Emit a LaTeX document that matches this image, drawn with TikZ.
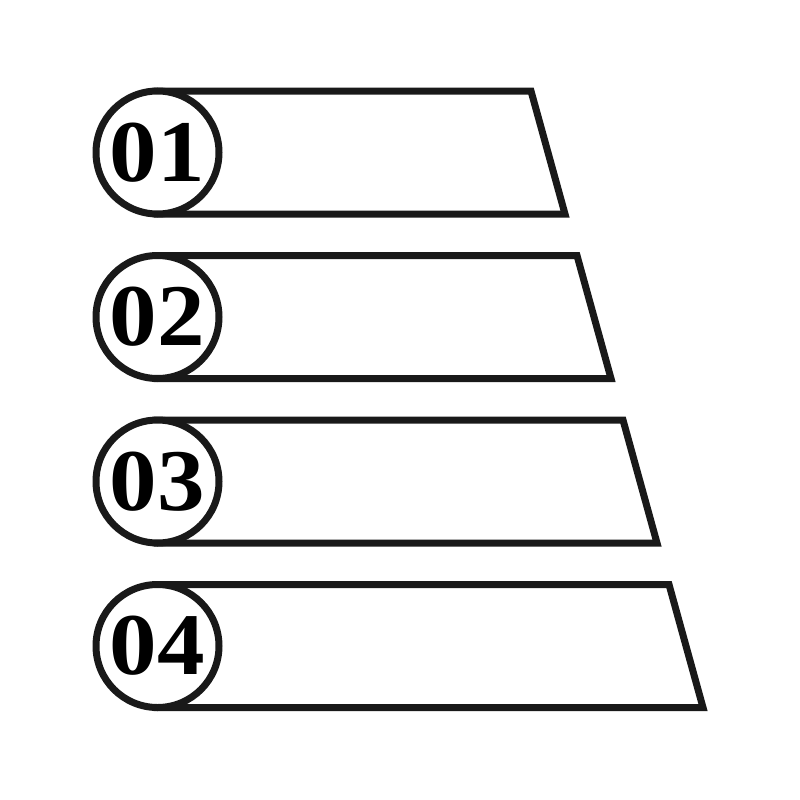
\documentclass[tikz,border=0pt]{standalone}
\usepackage{fontspec}
\setmainfont{Liberation Serif}
\begin{document}
\begin{tikzpicture}[x=1pt,y=-1pt,
  numcirc/.style={circle,draw=black!90,line width=7pt,fill=white,minimum size=123pt,inner sep=0pt,font=\fontsize{88}{88}\selectfont\bfseries},
  banner/.style={draw=black!90,line width=7pt,line join=miter,fill=white}]
\useasboundingbox (0,0) rectangle (800,800);
\foreach \i/\t in {0/01,1/02,2/03,3/04}{
  \pgfmathsetmacro{\cy}{152.5+164.5*\i}
  \pgfmathsetmacro{\rt}{531+46*\i}
  \pgfmathsetmacro{\rb}{565+46*\i}
  \draw[banner] (157,\cy-61.5) -- (\rt,\cy-61.5) -- (\rb,\cy+61.5) -- (157,\cy+61.5) -- cycle;
  \node[numcirc] (c\i) at (157.5,\cy) {\scalebox{1.08}[1]{\t}};
}
\end{tikzpicture}
\end{document}
